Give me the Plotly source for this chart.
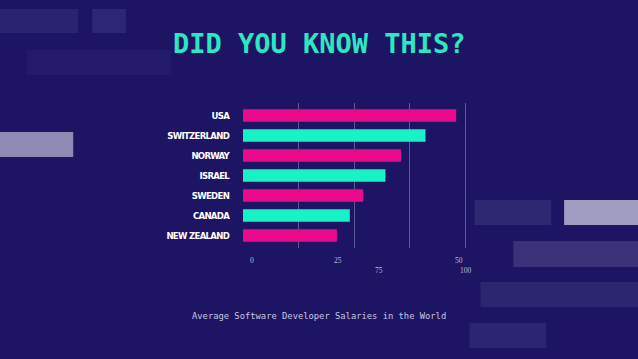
import plotly.graph_objects as go

# ---- data ----
countries = ["USA", "SWITZERLAND", "NORWAY", "ISRAEL", "SWEDEN", "CANADA", "NEW ZEALAND"]
salaries = [95.8, 82.0, 71.0, 64.0, 54.0, 48.0, 42.2]
tick_labels = ["0", "25", "50", "75", "100"]

MAGENTA = "#ea0a8c"
CYAN = "#19f2c6"
BG = "#1d1563"
colors = [MAGENTA if i % 2 == 0 else CYAN for i in range(len(countries))]

W, H = 638, 359
XMAX = 102.0
L, T, B = 242.5, 103.0, 248.0
R = L + (466.0 - L) * XMAX / 100.0


def px(x):
    return (x - L) / (R - L)


def py(y):
    return (B - y) / (B - T)


fig = go.Figure(go.Bar(
    x=salaries, y=countries, orientation="h",
    marker=dict(color=colors, line=dict(width=0)),
    width=0.63, hoverinfo="skip",
))

# decorative rectangles (pixel boxes, converted to paper coords)
rects = [
    (-3, 9, 77, 33, "#2a2370"),
    (91, 9, 125, 33, "#2d2675"),
    (25, 50, 170, 75, "#231b69"),
    (-3, 132, 72, 157, "#8e8ab4"),
    (475, 200, 552, 225, "#2e2772"),
    (565, 200, 642, 225, "#a19ec4"),
    (514, 241, 642, 267, "#3a3278"),
    (481, 282, 642, 307, "#2c2570"),
    (470, 323, 547, 348, "#2c2570"),
]
shapes = [dict(type="rect", xref="paper", yref="paper",
               x0=px(a), x1=px(c), y0=py(d), y1=py(b),
               fillcolor=col, line=dict(width=0), layer="below")
          for a, b, c, d, col in rects]

annotations = [
    dict(text="DID YOU KNOW THIS?", xref="paper", yref="paper",
         x=px(319), y=py(43), showarrow=False, xanchor="center", yanchor="middle",
         font=dict(family="DejaVu Sans Mono", size=27, color="#2ee6c2", weight="bold")),
    dict(text="Average Software Developer Salaries in the World", xref="paper", yref="paper",
         x=px(319), y=py(316), showarrow=False, xanchor="center", yanchor="middle",
         font=dict(family="DejaVu Sans Mono", size=8.8, color="#c9c6e6")),
]

# staggered x tick labels as in the original rendering
tick_spots = [(252, 260), (338, 260), (459, 260), (379, 270), (466, 270)]
for lab, (tx, ty) in zip(tick_labels, tick_spots):
    annotations.append(dict(text=lab, xref="paper", yref="paper",
                            x=px(tx), y=py(ty), showarrow=False,
                            xanchor="center", yanchor="middle",
                            font=dict(family="Liberation Serif", size=7.5, color="#bdbbdc")))

fig.update_layout(
    width=W, height=H,
    margin=dict(l=L, r=W - R, t=T, b=H - B, pad=0),
    paper_bgcolor=BG, plot_bgcolor=BG,
    showlegend=False,
    shapes=shapes, annotations=annotations,
    xaxis=dict(range=[0, XMAX], tickvals=[0, 25, 50, 75, 100], showticklabels=False,
               showgrid=True, gridcolor="#5d5a94", gridwidth=1, zeroline=False,
               showline=False, fixedrange=True),
    yaxis=dict(autorange=False, range=[6.63, -0.63], showgrid=False, zeroline=False,
               showline=False, ticks="outside", ticklen=11, tickcolor="rgba(0,0,0,0)",
               tickfont=dict(family="DejaVu Sans Condensed, DejaVu Sans",
                             size=9.5, color="#ffffff", weight="bold"),
               fixedrange=True),
)

post = (
    "document.body.style.margin='0';"
    "document.body.style.background='%s';"
    "var st=document.createElement('style');"
    "st.textContent='.ytick text{font-stretch:condensed !important;letter-spacing:-0.7px;}';"
    "document.head.appendChild(st);"
) % BG

fig.write_html("out.html", config={"displayModeBar": False}, post_script=post)
